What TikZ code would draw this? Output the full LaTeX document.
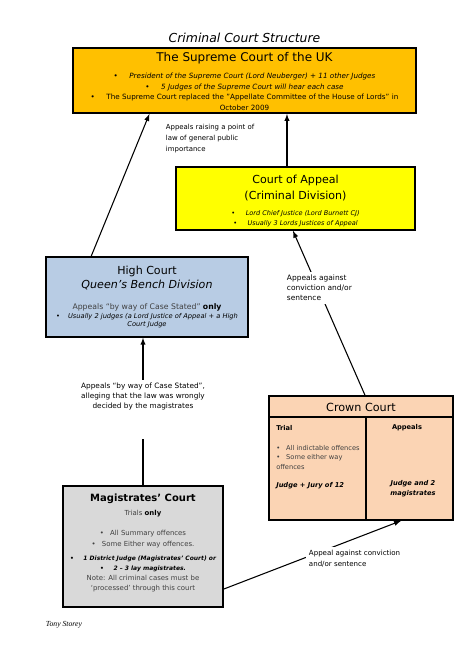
\documentclass[tikz,border=0pt]{standalone}
\usepackage{fontspec}
\setmainfont{DejaVu Sans}
\newfontfamily\sigfont{Liberation Serif}
\usepackage{tikz}
\usetikzlibrary{shapes,arrows}

\definecolor{supremeColor}{HTML}{FFC000}
\definecolor{appealColor}{HTML}{FFFF00}
\definecolor{highColor}{HTML}{B8CCE4}
\definecolor{crownColor}{HTML}{FBD4B4}
\definecolor{magColor}{HTML}{D9D9D9}

\newcommand{\bul}[1][1em]{\textbullet\hspace{#1}}
\newcommand{\fsz}[2]{\fontsize{#1pt}{#2pt}\selectfont}
\newcommand{\light}{\color{black!75}}

\begin{document}
\begin{tikzpicture}[x=0.75pt,y=0.75pt,
    court/.style={rectangle,draw,line width=1.2pt,align=center,inner sep=2pt},
    note/.style={fill=white,inner sep=2pt,align=left},
    link/.style={-latex,line width=0.8pt}]
    \useasboundingbox (0,0) rectangle (474,-670);
    \node [court,fill=supremeColor,minimum width=257pt,minimum height=48.75pt,font=\fsz{5.4}{8}] (supreme) at (244.5,-80.5) {\fsz{9}{11}\rule{0pt}{8.5pt}The Supreme Court of the UK\\[4.5pt]
      \itshape\bul[1.6em]President of the Supreme Court (Lord Neuberger) + 11 other Judges\\
      \itshape\bul[1.6em]5 Judges of the Supreme Court will hear each case\\
      \bul[1.6em]The Supreme Court replaced the "Appellate Committee of the House of Lords" in\\
      October 2009};
    \node [above of=supreme,node distance=32pt,font=\fsz{9.3}{11}\itshape] (title) {Criminal Court Structure};
    \node [court,fill=appealColor,minimum width=179.25pt,minimum height=47.25pt,font=\fsz{4.9}{7.5}] (appeal) at (295.5,-198.5) {\fsz{8.3}{11}\rule{0pt}{9.5pt}Court of Appeal\\[3pt]
      \fsz{8.3}{11}(Criminal Division)\\[4.5pt]
      \itshape\bul[1.6em]Lord Chief Justice (Lord Burnett CJ)\\
      \itshape\bul[1.6em]Usually 3 Lords Justices of Appeal};
    \node [court,fill=highColor,minimum width=151.5pt,minimum height=60pt,font=\fsz{5}{6.5}] (high) at (147,-297) {\fsz{8.3}{11}High Court\\[2pt]
      \fsz{8.3}{11}\itshape Queen’s Bench Division\\[9pt]
      \fsz{5.8}{7}\light Appeals “by way of Case Stated” {\color{black}\bfseries only}\\
      \itshape\bul[1.2em]Usually 2 judges (a Lord Justice of Appeal + a High\\
      \itshape Court Judge};
    \node [court,fill=crownColor,minimum width=138pt,minimum height=93pt] (crown) at (361,-458) {};
    \node [font=\fsz{8.4}{10}] (crownTitle) at (361,-407) {Crown Court};
    \draw [line width=1pt] (crown.west |- 0,-417) -- (crown.east |- 0,-417);
    \draw [line width=1pt] (366,-417) -- (crown.south -| 366,0);
    \node [anchor=north west,align=left,inner sep=0pt,font=\fsz{5}{7}] (trial) at (276,-425) {\bfseries Trial\\[8pt]
      \light\bul[0.9em]All indictable offences\\
      \light\bul[0.9em]Some either way\\
      \light offences\\[7pt]
      \bfseries\itshape Judge + Jury of 12};
    \node [font=\fsz{5}{7}\bfseries] (appealsHead) at (407,-428) {Appeals};
    \node [align=center,font=\fsz{5}{7.5}\bfseries\itshape] (appealsJudge) at (413,-489) {Judge and 2\\magistrates};
    \node [court,fill=magColor,minimum width=120pt,minimum height=90.75pt,font=\fsz{5.2}{7.5}] (mag) at (143,-546.5) {\fsz{7.5}{10}\bfseries Magistrates’ Court\\[3pt]
      \light Trials {\color{black}\bfseries only}\\[7.5pt]
      \light\bul[0.9em]All Summary offences\\[0.75pt]
      \light\bul[0.9em]Some Either way offences.\\[3pt]
      \fsz{4.5}{7.5}\bfseries\itshape\bul[1.6em]1 District Judge (Magistrates’ Court) or\\
      \fsz{4.5}{7.5}\bfseries\itshape\bul[1.6em]2 – 3 lay magistrates.\\
      \light Note: All criminal cases must be\\
      \light ‘processed’ through this court\rule[-6pt]{0pt}{0pt}};
    \node [font=\fsz{5.8}{7}\sigfont\itshape] (author) at (64,-625) {Tony Storey};
    \draw [link] ([xshift=34.5pt]high.north west) -- ([xshift=57.75pt]supreme.south west);
    \draw [link] ([xshift=-6.4pt]appeal.north) -- ([xshift=-6.4pt]appeal.north |- supreme.south);
    \draw [link] ([xshift=3pt]crown.north) -- ([xshift=-1.9pt]appeal.south);
    \draw [link] (mag.north) -- (mag.north |- high.south);
    \draw [link] ([yshift=-31.9pt]mag.east) -- ([xshift=30pt]crown.south);
    \node [note,anchor=west,font=\fsz{5.2}{8.25}] (lblPoint) at (163,-139) {Appeals raising a point of\\law of general public\\importance};
    \node [note,anchor=west,font=\fsz{5.6}{7.5}] (lblConv) at (284,-288) {Appeals against\\conviction and/or\\sentence};
    \node [note,align=center,anchor=north,font=\fsz{5.5}{7.5}] (lblCase) at (143,-380) {Appeals “by way of Case Stated”,\\alleging that the law was wrongly\\decided by the magistrates\rule[-21pt]{0pt}{0pt}};
    \node [note,anchor=west,font=\fsz{5.3}{8.25}] (lblConv2) at (306,-558.5) {Appeal against conviction\\and/or sentence};
\end{tikzpicture}
\end{document}
